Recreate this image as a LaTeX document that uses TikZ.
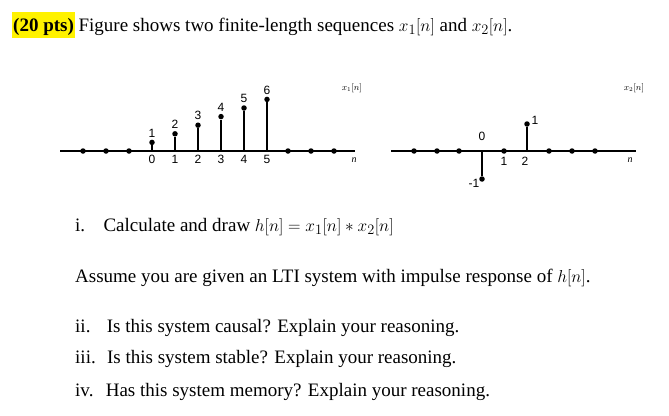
\documentclass[tikz,border=0pt]{standalone}
\usepackage{fontspec}
\setmainfont{Liberation Serif}
\setsansfont{Liberation Sans}
\begin{document}
\begin{tikzpicture}[x=1pt,y=-1pt,
  txt/.style={anchor=base west,inner sep=0pt,font=\fontsize{19}{21}\selectfont},
  lbl/.style={inner sep=0pt,font=\sffamily\fontsize{12}{13}\selectfont},
  dotc/.style={circle,fill=black,inner sep=0pt,minimum size=5.5pt},
  ax/.style={line width=1.1pt},
  stem/.style={line width=1.3pt}]
\useasboundingbox (0,0) rectangle (669,415);
\fill[yellow] (12,12) rectangle (75,38);
\node[txt] (title) at (13,31) {\textbf{(20 pts)} Figure shows two finite-length sequences $x_1[n]$ and $x_2[n]$.};
% left plot
\coordinate (la) at (60,151); \coordinate (lb) at (355,151);
\draw[ax] (la) -- (lb);
\foreach \i/\x in {1/83,2/106,3/129,4/288,5/311,6/334}
  \node[dotc] (ld\i) at (\x,151) {};
\foreach \k in {0,...,5}{
  \pgfmathsetmacro\xx{152+23*\k}
  \pgfmathsetmacro\yy{151-8.6*(\k+1)}
  \coordinate (lbase\k) at (\xx,151);
  \node[dotc] (ls\k) at (\xx,\yy) {};
  \draw[stem] (lbase\k) -- (ls\k);
  \node[lbl,anchor=south] (lv\k) at ([yshift=2pt]ls\k.north) {\pgfmathparse{int(\k+1)}\pgfmathresult};
  \node[lbl,anchor=north] (ln\k) at ([yshift=-4pt]lbase\k) {\k};
}
\node[lbl,font=\fontsize{9}{10}\selectfont] (x1l) at (352,88) {$x_1[n]$};
\node[lbl,font=\fontsize{10}{11}\selectfont\itshape] (n1) at (354,160) {n};
% right plot
\coordinate (ra) at (391,151); \coordinate (rb) at (636,151);
\draw[ax] (ra) -- (rb);
\foreach \i/\x in {1/414,2/437,3/459,4/504,5/549,6/572,7/595}
  \node[dotc] (rd\i) at (\x,151) {};
\coordinate (r0) at (482,151); \coordinate (r2) at (527,151);
\node[dotc] (rs0) at (482,179) {};
\node[dotc] (rs2) at (527,124) {};
\draw[stem] (r0) -- (rs0);
\draw[stem] (r2) -- (rs2);
\node[lbl] (rv0) at (482,136) {0};
\node[lbl] (rn1) at (504,161) {1};
\node[lbl] (rn2) at (525,161) {2};
\node[lbl] (rm1) at (474,183) {-1};
\node[lbl] (rp1) at (535,120) {1};
\node[lbl,font=\fontsize{9}{10}\selectfont] (x2l) at (634,88) {$x_2[n]$};
\node[lbl,font=\fontsize{10}{11}\selectfont\itshape] (n2) at (630,160) {n};
% questions
\node[txt] (q1) at (75,231) {i.\hspace{12pt} Calculate and draw $h[n]=x_1[n]*x_2[n]$};
\node[txt] (q0) at (75,282) {Assume you are given an LTI system with impulse response of $h[n]$.};
\node[txt] (q2) at (75,332) {ii.\hspace{10pt} Is this system causal? Explain your reasoning.};
\node[txt] (q3) at (75,363) {iii.\hspace{5pt} Is this system stable? Explain your reasoning.};
\node[txt] (q4) at (75,396) {iv.\hspace{6pt} Has this system memory? Explain your reasoning.};
\end{tikzpicture}
\end{document}
